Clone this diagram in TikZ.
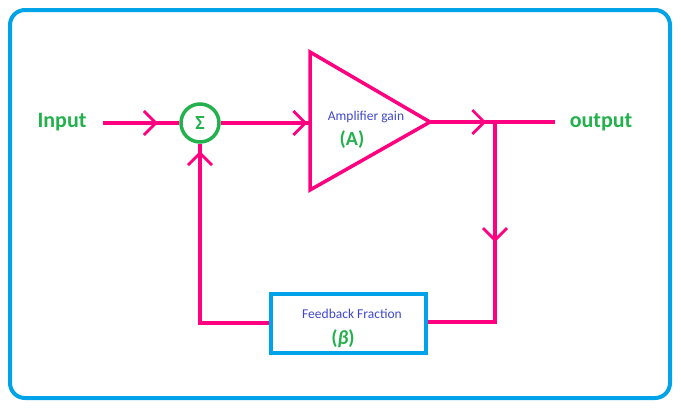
\documentclass[tikz,border=0pt]{standalone}
\usepackage{fontspec}
\setmainfont{Carlito}
\usetikzlibrary{arrows.meta,decorations.markings}
\definecolor{pk}{RGB}{255,0,128}
\definecolor{bl}{RGB}{0,162,232}
\definecolor{gr}{RGB}{34,177,76}
\definecolor{tx}{RGB}{63,72,204}
\begin{document}
\begin{tikzpicture}[x=1pt,y=-1pt,
  wire/.style={pk,line width=3.5pt},
  mid/.style={postaction={decorate},decoration={markings,mark=at position #1 with {\arrow[pk,line width=2.8pt]{Straight Barb[length=12pt,width=24pt]}}}},
  lbl/.style={gr,font=\fontsize{22}{24}\selectfont\bfseries},
  sm/.style={tx,font=\fontsize{13.5}{15}\selectfont},
  gt/.style={gr,font=\fontsize{20}{22}\selectfont\bfseries}]
\useasboundingbox (0,0) rectangle (681,408);
\draw[bl,line width=4pt,rounded corners=15pt] (10,10) rectangle (670,398);
\node[lbl] (in) at (62,122) {Input};
\node[lbl] (out) at (601,122) {output};
\node[circle,draw=gr,line width=3.5pt,minimum size=38pt,inner sep=0,gr,font=\fontsize{20}{22}\selectfont\bfseries] (sum) at (200,123) {Σ};
\coordinate (a1) at (103,123);
\coordinate (t1) at (310,52); \coordinate (t2) at (310,190); \coordinate (t3) at (430,122);
\draw[pk,line width=3.5pt,line join=miter] (t1) -- (t2) -- (t3) -- cycle;
\coordinate (tin) at (310,123);
\node[sm] (amp) at (366,117) {Amplifier gain};
\node[gt] (A) at (352,140) {(A)};
\node[draw=bl,line width=4pt,minimum width=155pt,minimum height=59pt,inner sep=0] (fb) at (348.5,323.5) {};
\node[sm] (fbt) at (352,314) {Feedback Fraction};
\node[gt] (beta) at (343,339) {(\textit{β})};
\coordinate (aout) at (555,122);
\coordinate (j) at (495,122);
\coordinate (c1) at (495,322);
\coordinate (c2) at (200,323);
\draw[wire,mid=0.72] (a1) -- (sum.west);
\draw[wire,mid=0.97] (sum.east) -- (tin);
\draw[wire,mid=0.45] (t3) -- (aout);
\draw[wire,mid=0.45] (j) -- (c1) -- (fb.east |- c1);
\draw[wire,mid=0.97] (fb.west |- c2) -- (c2) -- (sum.south);
\end{tikzpicture}
\end{document}
